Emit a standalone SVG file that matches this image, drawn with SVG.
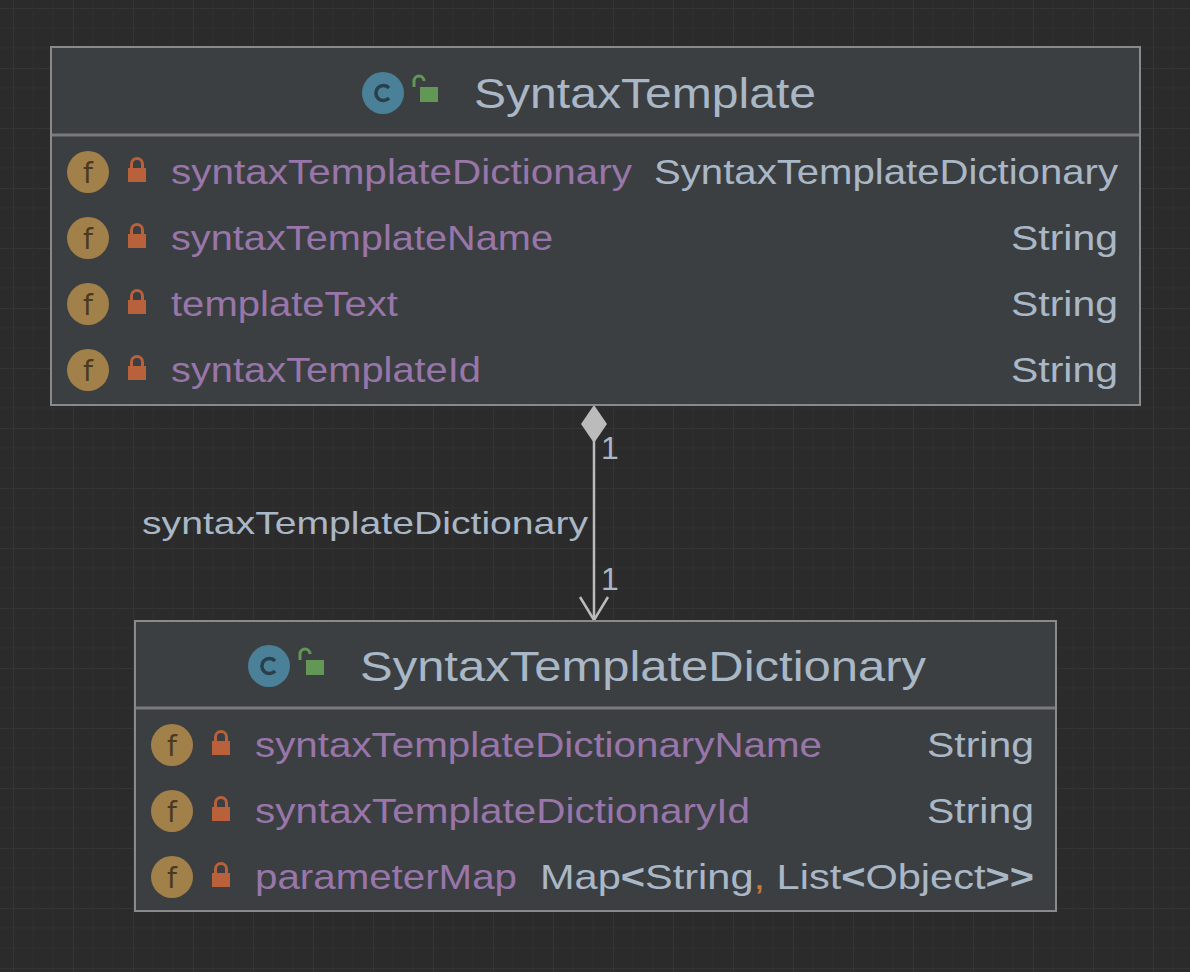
<svg xmlns="http://www.w3.org/2000/svg" width="1190" height="972" viewBox="0 0 1190 972">
<defs>
<pattern id="g" x="13" y="8" width="60" height="60" patternUnits="userSpaceOnUse">
<path d="M0 0H60M0 0V60" stroke="#353535" stroke-width="2" fill="none"/>
<path d="M20 0V60M40 0V60M0 20H60M0 40H60" stroke="#2f2f2f" stroke-width="1" fill="none"/>
</pattern>
<g id="fi"><circle r="21" fill="#a2804a"/><text y="11" text-anchor="middle" font-family="DejaVu Sans, sans-serif" font-size="28" fill="#4a3a22">f</text></g>
<g id="lk"><rect x="-9" y="-4" width="18" height="14" fill="#b8613a"/><path d="M-5.5 -4V-8a5.5 5.5 0 0 1 11 0V-4" stroke="#b8613a" stroke-width="3" fill="none"/></g>
<g id="ci"><circle r="21" fill="#4a8199"/><path d="M6 -5A7.5 7.5 0 1 0 6 5" stroke="#2a3f4a" stroke-width="3.5" fill="none"/></g>
<g id="ul"><rect x="-2" y="-2" width="18" height="15" fill="#629755"/><path d="M-8 -2V-8a5 5 0 0 1 10 0" stroke="#629755" stroke-width="3" fill="none"/></g>
</defs>
<style>
.box{fill:#3c3f41;stroke:#8a8a8a;stroke-width:2}
.sep{stroke:#7a7a7a;stroke-width:3}
.t{font-family:"Liberation Sans",sans-serif;font-size:42px;fill:#a9b7c6}
.n{font-family:"Liberation Sans",sans-serif;font-size:35px;fill:#9876aa}
.ty{font-family:"Liberation Sans",sans-serif;font-size:35px;fill:#a9b7c6;text-anchor:end}
.l{font-family:"Liberation Sans",sans-serif;font-size:32px;fill:#a9b7c6}
</style>
<rect width="1190" height="972" fill="#2b2b2b"/>
<rect width="1190" height="972" fill="url(#g)"/>
<g id="connectors">
<line x1="594" y1="440" x2="594" y2="619" stroke="#bbbbbb" stroke-width="2.5"/>
<path d="M594 405L607 424L594 443L581 424Z" fill="#bbbbbb"/>
<path d="M580 597L594 620L608 597" stroke="#bbbbbb" stroke-width="2.5" fill="none"/>
<text class="l" x="601" y="459">1</text>
<text class="l" x="601" y="590">1</text>
<text class="l" x="142" y="534" textLength="446" lengthAdjust="spacingAndGlyphs">syntaxTemplateDictionary</text>
</g>
<g id="SyntaxTemplate">
<rect class="box" x="51" y="47" width="1089" height="358"/>
<line class="sep" x1="52" y1="135" x2="1139" y2="135"/>
<use href="#ci" x="383" y="93"/><use href="#ul" x="422" y="89"/>
<text class="t" x="474" y="108" textLength="342" lengthAdjust="spacingAndGlyphs">SyntaxTemplate</text>
<use href="#fi" x="88" y="172"/><use href="#lk" x="137" y="172"/>
<text class="n" x="171" y="184" textLength="461" lengthAdjust="spacingAndGlyphs">syntaxTemplateDictionary</text><text class="ty" x="1118" y="184" textLength="464" lengthAdjust="spacingAndGlyphs">SyntaxTemplateDictionary</text>
<use href="#fi" x="88" y="238"/><use href="#lk" x="137" y="238"/>
<text class="n" x="171" y="250" textLength="382" lengthAdjust="spacingAndGlyphs">syntaxTemplateName</text><text class="ty" x="1118" y="250" textLength="107" lengthAdjust="spacingAndGlyphs">String</text>
<use href="#fi" x="88" y="304"/><use href="#lk" x="137" y="304"/>
<text class="n" x="171" y="316" textLength="227" lengthAdjust="spacingAndGlyphs">templateText</text><text class="ty" x="1118" y="316" textLength="107" lengthAdjust="spacingAndGlyphs">String</text>
<use href="#fi" x="88" y="370"/><use href="#lk" x="137" y="370"/>
<text class="n" x="171" y="382" textLength="310" lengthAdjust="spacingAndGlyphs">syntaxTemplateId</text><text class="ty" x="1118" y="382" textLength="107" lengthAdjust="spacingAndGlyphs">String</text>
</g>
<g id="SyntaxTemplateDictionary">
<rect class="box" x="135" y="621" width="921" height="290"/>
<line class="sep" x1="136" y1="708" x2="1055" y2="708"/>
<use href="#ci" x="269" y="666"/><use href="#ul" x="308" y="662"/>
<text class="t" x="360" y="681" textLength="566" lengthAdjust="spacingAndGlyphs">SyntaxTemplateDictionary</text>
<use href="#fi" x="172" y="745"/><use href="#lk" x="221" y="745"/>
<text class="n" x="255" y="757" textLength="567" lengthAdjust="spacingAndGlyphs">syntaxTemplateDictionaryName</text><text class="ty" x="1034" y="757" textLength="107" lengthAdjust="spacingAndGlyphs">String</text>
<use href="#fi" x="172" y="811"/><use href="#lk" x="221" y="811"/>
<text class="n" x="255" y="823" textLength="495" lengthAdjust="spacingAndGlyphs">syntaxTemplateDictionaryId</text><text class="ty" x="1034" y="823" textLength="107" lengthAdjust="spacingAndGlyphs">String</text>
<use href="#fi" x="172" y="877"/><use href="#lk" x="221" y="877"/>
<text class="n" x="255" y="889" textLength="262" lengthAdjust="spacingAndGlyphs">parameterMap</text><text class="ty" x="1034" y="889" textLength="494" lengthAdjust="spacingAndGlyphs">Map<tspan font-weight="bold">&lt;</tspan>String<tspan fill="#cc7832">,</tspan> List<tspan font-weight="bold">&lt;</tspan>Object<tspan font-weight="bold">&gt;&gt;</tspan></text>
</g>
</svg>
